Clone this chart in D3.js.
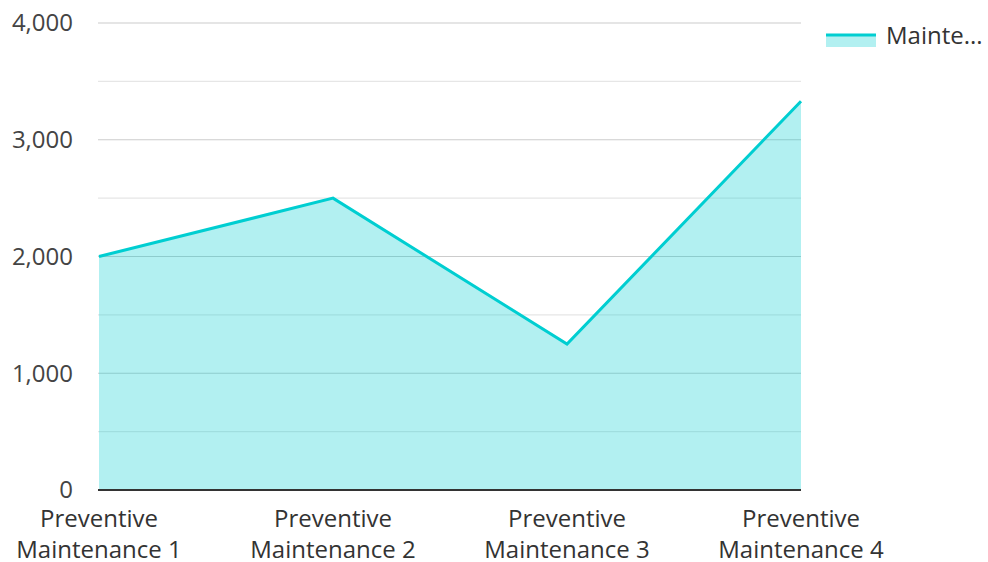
<!DOCTYPE html>
<html lang="en">
<head>
    <meta charset="UTF-8"/>
    <title>Preventive Maintenance</title>
    <script src="https://d3js.org/d3.v7.min.js"></script>
    <style>
        body { margin: 0; background: #fff; }
        text { font-family: "Open Sans", "Noto Sans", sans-serif; }
    </style>
</head>
<body>
    <div id="chart"></div>
    <script>
        // Data
        const categories = ["Preventive Maintenance 1", "Preventive Maintenance 2",
                            "Preventive Maintenance 3", "Preventive Maintenance 4"];
        const values = [2000, 2500, 1250, 3330];
        const majorTicks = [0, 1000, 2000, 3000, 4000];
        const minorTicks = [500, 1500, 2500, 3500];
        const seriesName = "Mainte...";

        const w = 988, h = 562;
        const margin = { top: 23, right: 187, bottom: 72, left: 99 };
        const fontSize = "24px";

        const svg = d3.select("#chart").append("svg")
            .attr("width", w)
            .attr("height", h);

        const x = d3.scalePoint()
            .domain(categories)
            .range([margin.left, w - margin.right]);

        const y = d3.scaleLinear()
            .domain([0, 4000])
            .range([h - margin.bottom, margin.top]);

        // Grid lines
        svg.selectAll(".minor")
            .data(minorTicks)
            .enter()
            .append("line")
            .attr("x1", margin.left - 1)
            .attr("x2", w - margin.right)
            .attr("y1", d => y(d))
            .attr("y2", d => y(d))
            .attr("stroke", "#e6e6e6")
            .attr("stroke-width", 1.2);

        svg.selectAll(".major")
            .data(majorTicks.filter(d => d > 0))
            .enter()
            .append("line")
            .attr("x1", margin.left - 1)
            .attr("x2", w - margin.right)
            .attr("y1", d => y(d))
            .attr("y2", d => y(d))
            .attr("stroke", "#cccccc")
            .attr("stroke-width", 1.2);

        const pts = categories.map((c, i) => ({ c: c, v: values[i] }));

        // Area
        svg.append("path")
            .datum(pts)
            .attr("fill", "rgba(0, 206, 209, 0.3)")
            .attr("d", d3.area()
                .x(d => x(d.c))
                .y0(y(0))
                .y1(d => y(d.v)));

        // Line
        svg.append("path")
            .datum(pts)
            .attr("fill", "none")
            .attr("stroke", "#00ced1")
            .attr("stroke-width", 3)
            .attr("d", d3.line()
                .x(d => x(d.c))
                .y(d => y(d.v)));

        // Baseline
        svg.append("line")
            .attr("x1", margin.left - 1)
            .attr("x2", w - margin.right)
            .attr("y1", y(0))
            .attr("y2", y(0))
            .attr("stroke", "#333333")
            .attr("stroke-width", 2);

        // Y tick labels
        svg.selectAll(".ylabel")
            .data(majorTicks)
            .enter()
            .append("text")
            .attr("x", 73)
            .attr("y", d => y(d))
            .attr("dy", "0.35em")
            .attr("text-anchor", "end")
            .attr("font-size", fontSize)
            .attr("fill", "#444")
            .text(d => d3.format(",")(d));

        // X labels, two lines each
        const xl = svg.selectAll(".xlabel")
            .data(categories)
            .enter()
            .append("text")
            .attr("text-anchor", "middle")
            .attr("font-size", fontSize)
            .attr("fill", "#333");

        xl.append("tspan")
            .attr("x", d => x(d))
            .attr("y", 527)
            .text(d => d.split(" ")[0]);

        xl.append("tspan")
            .attr("x", d => x(d))
            .attr("y", 558)
            .text(d => d.split(" ").slice(1).join(" "));

        // Legend
        const lg = svg.append("g").attr("transform", "translate(826, 0)");
        lg.append("rect")
            .attr("x", 0).attr("y", 34)
            .attr("width", 50).attr("height", 13)
            .attr("fill", "rgba(0, 206, 209, 0.3)");
        lg.append("line")
            .attr("x1", 0).attr("x2", 50)
            .attr("y1", 35).attr("y2", 35)
            .attr("stroke", "#00ced1")
            .attr("stroke-width", 3);
        lg.append("text")
            .attr("x", 60)
            .attr("y", 44)
            .attr("font-size", fontSize)
            .attr("fill", "#333")
            .text(seriesName);
    </script>
</body>
</html>
